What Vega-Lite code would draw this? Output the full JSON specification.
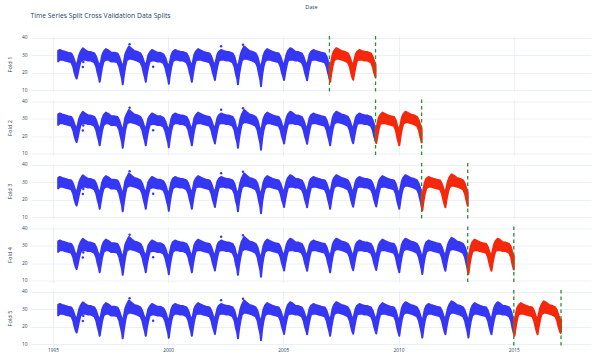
{
"$schema":"https://vega.github.io/schema/vega-lite/v6.json",
"padding":{"left":7,"top":4,"right":9,"bottom":6},
"title":{"text":"Time Series Split Cross Validation Data Splits","anchor":"start","fontSize":6.8,"fontWeight":"normal","color":"#2a3f5f","font":"Open Sans","offset":-15,"dx":23},
"spacing":7.5,
"bounds":"flush",
"datasets":{
"temp":[
{"x":1995.23,"lo":26.5,"hi":32.5},{"x":1995.30,"lo":27.5,"hi":33},{"x":1995.40,"lo":27.5,"hi":32.5},{"x":1995.52,"lo":27,"hi":32},{"x":1995.65,"lo":26.5,"hi":31.5},{"x":1995.80,"lo":26,"hi":31},{"x":1995.88,"lo":23.5,"hi":29},{"x":1995.94,"lo":20,"hi":26.5},{"x":1996.00,"lo":17.5,"hi":24.5},
{"x":1996.03,"lo":16.7,"hi":24},{"x":1996.08,"lo":19.5,"hi":26.5},{"x":1996.14,"lo":23.5,"hi":30},{"x":1996.20,"lo":26.5,"hi":32},{"x":1996.30,"lo":27.5,"hi":34},{"x":1996.40,"lo":27.5,"hi":33},{"x":1996.52,"lo":27,"hi":32},{"x":1996.65,"lo":27,"hi":31.8},{"x":1996.80,"lo":26,"hi":31},{"x":1996.88,"lo":23.5,"hi":29},{"x":1996.94,"lo":20,"hi":26.5},{"x":1997.00,"lo":17,"hi":24.5},
{"x":1997.03,"lo":14.8,"hi":23},{"x":1997.08,"lo":19,"hi":26},{"x":1997.14,"lo":23.5,"hi":30},{"x":1997.20,"lo":26.5,"hi":32},{"x":1997.30,"lo":27.5,"hi":33.5},{"x":1997.40,"lo":27.5,"hi":32.8},{"x":1997.52,"lo":26.5,"hi":31.5},{"x":1997.65,"lo":26.5,"hi":31.5},{"x":1997.80,"lo":26,"hi":31},{"x":1997.88,"lo":23.5,"hi":29},{"x":1997.94,"lo":20,"hi":26.5},{"x":1998.00,"lo":16.5,"hi":24},
{"x":1998.03,"lo":13.4,"hi":22.5},{"x":1998.08,"lo":18.5,"hi":26},{"x":1998.14,"lo":23.5,"hi":30.5},{"x":1998.20,"lo":27,"hi":32.5},{"x":1998.30,"lo":28,"hi":35},{"x":1998.40,"lo":28,"hi":33.8},{"x":1998.52,"lo":27.5,"hi":32.5},{"x":1998.65,"lo":27,"hi":32},{"x":1998.80,"lo":26,"hi":31},{"x":1998.88,"lo":23.5,"hi":29},{"x":1998.94,"lo":20,"hi":26.5},{"x":1999.00,"lo":17,"hi":24.5},
{"x":1999.03,"lo":14.8,"hi":23},{"x":1999.08,"lo":19.5,"hi":26.5},{"x":1999.14,"lo":23.5,"hi":30},{"x":1999.20,"lo":26.5,"hi":31.5},{"x":1999.30,"lo":27,"hi":33},{"x":1999.40,"lo":27,"hi":32.3},{"x":1999.52,"lo":26.5,"hi":31.5},{"x":1999.65,"lo":26.5,"hi":31.5},{"x":1999.80,"lo":25.5,"hi":30.5},{"x":1999.88,"lo":23,"hi":28.5},{"x":1999.94,"lo":19.5,"hi":26},{"x":2000.00,"lo":16.5,"hi":24},
{"x":2000.03,"lo":13.7,"hi":22.5},{"x":2000.08,"lo":19,"hi":26},{"x":2000.14,"lo":23.5,"hi":30},{"x":2000.20,"lo":26.5,"hi":32},{"x":2000.30,"lo":27.5,"hi":33},{"x":2000.40,"lo":27.5,"hi":32.5},{"x":2000.52,"lo":27,"hi":32},{"x":2000.65,"lo":27,"hi":31.8},{"x":2000.80,"lo":26,"hi":31},{"x":2000.88,"lo":23.5,"hi":29},{"x":2000.94,"lo":20,"hi":26.5},{"x":2001.00,"lo":17,"hi":24.5},
{"x":2001.03,"lo":14.8,"hi":23},{"x":2001.08,"lo":19.5,"hi":26.5},{"x":2001.14,"lo":24,"hi":30.5},{"x":2001.20,"lo":27,"hi":32},{"x":2001.30,"lo":27.5,"hi":33.5},{"x":2001.40,"lo":27.5,"hi":32.8},{"x":2001.52,"lo":27,"hi":32},{"x":2001.65,"lo":26.5,"hi":31.5},{"x":2001.80,"lo":26,"hi":31},{"x":2001.88,"lo":23.5,"hi":29},{"x":2001.94,"lo":20,"hi":26.5},{"x":2002.00,"lo":17.5,"hi":24.5},
{"x":2002.03,"lo":15.8,"hi":24},{"x":2002.08,"lo":20,"hi":27},{"x":2002.14,"lo":24,"hi":30.5},{"x":2002.20,"lo":27,"hi":32},{"x":2002.30,"lo":27.5,"hi":33},{"x":2002.40,"lo":27.5,"hi":32.5},{"x":2002.52,"lo":27,"hi":32},{"x":2002.65,"lo":27,"hi":31.8},{"x":2002.80,"lo":26,"hi":31},{"x":2002.88,"lo":23.5,"hi":29},{"x":2002.94,"lo":19.5,"hi":26},{"x":2003.00,"lo":16.5,"hi":24},
{"x":2003.03,"lo":13.4,"hi":22.5},{"x":2003.08,"lo":19,"hi":26},{"x":2003.14,"lo":23.5,"hi":30},{"x":2003.20,"lo":27,"hi":32.5},{"x":2003.30,"lo":28,"hi":35},{"x":2003.40,"lo":28,"hi":33.8},{"x":2003.52,"lo":27.5,"hi":32.5},{"x":2003.65,"lo":27,"hi":32},{"x":2003.80,"lo":26,"hi":31},{"x":2003.88,"lo":23.5,"hi":29},{"x":2003.94,"lo":19.5,"hi":26},{"x":2004.00,"lo":16,"hi":23.5},
{"x":2004.03,"lo":12.3,"hi":22},{"x":2004.08,"lo":18.5,"hi":26},{"x":2004.14,"lo":23.5,"hi":30},{"x":2004.20,"lo":26.5,"hi":32},{"x":2004.30,"lo":27.5,"hi":33.5},{"x":2004.40,"lo":27.5,"hi":32.8},{"x":2004.52,"lo":27,"hi":32},{"x":2004.65,"lo":26.5,"hi":31.5},{"x":2004.80,"lo":26,"hi":31},{"x":2004.88,"lo":23.5,"hi":29},{"x":2004.94,"lo":20,"hi":26.5},{"x":2005.00,"lo":17.5,"hi":24.5},
{"x":2005.03,"lo":15.8,"hi":24},{"x":2005.08,"lo":20,"hi":27},{"x":2005.14,"lo":24,"hi":30.5},{"x":2005.20,"lo":27,"hi":32.5},{"x":2005.30,"lo":27.5,"hi":34},{"x":2005.40,"lo":27.5,"hi":33.3},{"x":2005.52,"lo":27,"hi":32},{"x":2005.65,"lo":27,"hi":31.8},{"x":2005.80,"lo":26,"hi":31},{"x":2005.88,"lo":23.5,"hi":29},{"x":2005.94,"lo":20,"hi":26.5},{"x":2006.00,"lo":17.5,"hi":24.5},
{"x":2006.03,"lo":15.7,"hi":24},{"x":2006.08,"lo":20,"hi":27},{"x":2006.14,"lo":24,"hi":30.5},{"x":2006.20,"lo":27,"hi":32},{"x":2006.30,"lo":27.5,"hi":33},{"x":2006.40,"lo":27.5,"hi":32.5},{"x":2006.52,"lo":27,"hi":32},{"x":2006.65,"lo":26.5,"hi":31.5},{"x":2006.80,"lo":26,"hi":31},{"x":2006.88,"lo":23.5,"hi":29},{"x":2006.94,"lo":20,"hi":26.5},{"x":2007.00,"lo":17,"hi":24.5},
{"x":2007.03,"lo":14.8,"hi":23},{"x":2007.08,"lo":19.5,"hi":26.5},{"x":2007.14,"lo":24,"hi":30.5},{"x":2007.20,"lo":27,"hi":32.5},{"x":2007.30,"lo":28,"hi":34},{"x":2007.40,"lo":28,"hi":33.3},{"x":2007.52,"lo":27.5,"hi":32.5},{"x":2007.65,"lo":27,"hi":32},{"x":2007.80,"lo":26,"hi":31},{"x":2007.88,"lo":23.5,"hi":29},{"x":2007.94,"lo":20,"hi":26.5},{"x":2008.00,"lo":17,"hi":24.5},
{"x":2008.03,"lo":16,"hi":24},{"x":2008.08,"lo":20,"hi":27},{"x":2008.14,"lo":24,"hi":30.5},{"x":2008.20,"lo":27,"hi":32},{"x":2008.30,"lo":27.5,"hi":33},{"x":2008.40,"lo":27.5,"hi":32.5},{"x":2008.52,"lo":27,"hi":32},{"x":2008.65,"lo":27,"hi":31.8},{"x":2008.80,"lo":26,"hi":31},{"x":2008.88,"lo":23.5,"hi":29},{"x":2008.94,"lo":20,"hi":26.5},{"x":2009.00,"lo":17.5,"hi":24.5},
{"x":2009.03,"lo":16.1,"hi":24},{"x":2009.08,"lo":20,"hi":27},{"x":2009.14,"lo":24,"hi":30.5},{"x":2009.20,"lo":27,"hi":32},{"x":2009.30,"lo":27.5,"hi":33.5},{"x":2009.40,"lo":27.5,"hi":32.8},{"x":2009.52,"lo":27,"hi":32},{"x":2009.65,"lo":26.5,"hi":31.5},{"x":2009.80,"lo":26,"hi":31},{"x":2009.88,"lo":23.5,"hi":29},{"x":2009.94,"lo":19.5,"hi":26},{"x":2010.00,"lo":16.5,"hi":24},
{"x":2010.03,"lo":14.8,"hi":23},{"x":2010.08,"lo":19.5,"hi":26.5},{"x":2010.14,"lo":24,"hi":30.5},{"x":2010.20,"lo":27,"hi":32.5},{"x":2010.30,"lo":28,"hi":34},{"x":2010.40,"lo":28,"hi":33.3},{"x":2010.52,"lo":27.5,"hi":32.5},{"x":2010.65,"lo":27,"hi":32},{"x":2010.80,"lo":26,"hi":31},{"x":2010.88,"lo":23.5,"hi":29},{"x":2010.94,"lo":20,"hi":26.5},{"x":2011.00,"lo":16.5,"hi":24},
{"x":2011.03,"lo":13.8,"hi":22.5},{"x":2011.08,"lo":19,"hi":26},{"x":2011.14,"lo":23.5,"hi":30},{"x":2011.20,"lo":26.5,"hi":32},{"x":2011.30,"lo":27.5,"hi":33},{"x":2011.40,"lo":27.5,"hi":32.5},{"x":2011.52,"lo":27,"hi":32},{"x":2011.65,"lo":26.5,"hi":31.5},{"x":2011.80,"lo":26,"hi":31},{"x":2011.88,"lo":23.5,"hi":29},{"x":2011.94,"lo":20,"hi":26.5},{"x":2012.00,"lo":17,"hi":24.5},
{"x":2012.03,"lo":15.7,"hi":24},{"x":2012.08,"lo":20,"hi":27},{"x":2012.14,"lo":24,"hi":30.5},{"x":2012.20,"lo":27,"hi":32.5},{"x":2012.30,"lo":28,"hi":34.5},{"x":2012.40,"lo":28,"hi":33.8},{"x":2012.52,"lo":27.5,"hi":32.5},{"x":2012.65,"lo":27,"hi":32},{"x":2012.80,"lo":26,"hi":31},{"x":2012.88,"lo":23.5,"hi":29},{"x":2012.94,"lo":20,"hi":26.5},{"x":2013.00,"lo":16.5,"hi":24},
{"x":2013.03,"lo":13.8,"hi":22.5},{"x":2013.08,"lo":19,"hi":26},{"x":2013.14,"lo":23.5,"hi":30},{"x":2013.20,"lo":26.5,"hi":32},{"x":2013.30,"lo":27.5,"hi":33.5},{"x":2013.40,"lo":27.5,"hi":32.8},{"x":2013.52,"lo":27,"hi":32},{"x":2013.65,"lo":26.5,"hi":31.5},{"x":2013.80,"lo":26,"hi":31},{"x":2013.88,"lo":23.5,"hi":29},{"x":2013.94,"lo":20,"hi":26.5},{"x":2014.00,"lo":17,"hi":24.5},
{"x":2014.03,"lo":15.7,"hi":24},{"x":2014.08,"lo":20,"hi":27},{"x":2014.14,"lo":24,"hi":30.5},{"x":2014.20,"lo":27,"hi":32.5},{"x":2014.30,"lo":27.5,"hi":34},{"x":2014.40,"lo":27.5,"hi":33.3},{"x":2014.52,"lo":27,"hi":32},{"x":2014.65,"lo":27,"hi":31.8},{"x":2014.80,"lo":26,"hi":31},{"x":2014.88,"lo":23.5,"hi":29},{"x":2014.94,"lo":19.5,"hi":26},{"x":2015.00,"lo":16.5,"hi":24},
{"x":2015.03,"lo":14.8,"hi":23},{"x":2015.08,"lo":19.5,"hi":26.5},{"x":2015.14,"lo":24,"hi":30.5},{"x":2015.20,"lo":27,"hi":32},{"x":2015.30,"lo":27.5,"hi":33.5},{"x":2015.40,"lo":27.5,"hi":32.8},{"x":2015.52,"lo":27,"hi":32},{"x":2015.65,"lo":26.5,"hi":31.5},{"x":2015.80,"lo":26,"hi":31},{"x":2015.88,"lo":23.5,"hi":29},{"x":2015.94,"lo":20,"hi":26.5},{"x":2016.00,"lo":17,"hi":24.5},
{"x":2016.03,"lo":15.7,"hi":24},{"x":2016.08,"lo":20,"hi":27},{"x":2016.14,"lo":24,"hi":30.5},{"x":2016.20,"lo":27,"hi":32.5},{"x":2016.30,"lo":28,"hi":34.5},{"x":2016.40,"lo":28,"hi":33.8},{"x":2016.52,"lo":27.5,"hi":32.5},{"x":2016.65,"lo":27,"hi":32},{"x":2016.80,"lo":26,"hi":31},{"x":2016.88,"lo":23.5,"hi":29},{"x":2016.94,"lo":20,"hi":26.5},{"x":2017.00,"lo":17.5,"hi":24.5},
{"x":2017.03,"lo":16.5,"hi":24},{"x":2017.05,"lo":17.5,"hi":24}
],
"pts":[{"x":1996.30,"v":23.3},{"x":1996.32,"v":26.2},{"x":1998.33,"v":36.3},{"x":1999.35,"v":23.4},{"x":2003.25,"v":36},{"x":2002.3,"v":35.2}],
"cuts":[{"fold":1,"x":2007},{"fold":1,"x":2009},{"fold":2,"x":2009},{"fold":2,"x":2011},{"fold":3,"x":2011},{"fold":3,"x":2013},{"fold":4,"x":2013},{"fold":4,"x":2015},{"fold":5,"x":2015},{"fold":5,"x":2017.05}]
},
"vconcat":[
{"width":560,"height":56,
 "encoding":{"x":{"field":"x","type":"quantitative","title":"Date","scale":{"domain":[1994.05,2018.35],"nice":false},"axis":{"orient":"top","values":[1995,2000,2005,2010,2015],"labels":false,"titlePadding":26.2,"titleFontSize":5.6,"titleColor":"#2a3f5f"}}},
 "layer":[
  {"data":{"name":"temp"},"transform":[{"filter":"datum.x <= 2007"}],"mark":{"type":"area","color":"#3636f5","stroke":"#3636f5","strokeWidth":2,"strokeJoin":"round"},"encoding":{"y":{"field":"lo","type":"quantitative","title":"Fold 1","scale":{"domain":[9,41],"nice":false},"axis":{"values":[10,20,30,40],"labelOverlap":false}},"y2":{"field":"hi"}}},
  {"data":{"name":"temp"},"transform":[{"filter":"datum.x >= 2007 && datum.x <= 2009"}],"mark":{"type":"area","color":"#f5280c","stroke":"#f5280c","strokeWidth":2,"strokeJoin":"round"},"encoding":{"y":{"field":"lo","type":"quantitative","title":"Fold 1","axis":{"values":[10,20,30,40],"labelOverlap":false}},"y2":{"field":"hi"}}},
  {"data":{"name":"pts"},"mark":{"type":"circle","color":"#3636f5","size":6,"opacity":1},"encoding":{"y":{"field":"v","type":"quantitative","title":"Fold 1","axis":{"values":[10,20,30,40],"labelOverlap":false}}}},
  {"data":{"name":"cuts"},"transform":[{"filter":"datum.fold == 1"}],"mark":{"type":"rule","color":"#2e8b3a","strokeDash":[3.5,3],"strokeWidth":1.3},"encoding":{}}
 ]},
{"width":560,"height":56,
 "encoding":{"x":{"field":"x","type":"quantitative","title":null,"scale":{"domain":[1994.05,2018.35],"nice":false},"axis":{"values":[1995,2000,2005,2010,2015],"labels":false}}},
 "layer":[
  {"data":{"name":"temp"},"transform":[{"filter":"datum.x <= 2009"}],"mark":{"type":"area","color":"#3636f5","stroke":"#3636f5","strokeWidth":2,"strokeJoin":"round"},"encoding":{"y":{"field":"lo","type":"quantitative","title":"Fold 2","scale":{"domain":[9,41],"nice":false},"axis":{"values":[10,20,30,40],"labelOverlap":false}},"y2":{"field":"hi"}}},
  {"data":{"name":"temp"},"transform":[{"filter":"datum.x >= 2009 && datum.x <= 2011"}],"mark":{"type":"area","color":"#f5280c","stroke":"#f5280c","strokeWidth":2,"strokeJoin":"round"},"encoding":{"y":{"field":"lo","type":"quantitative","title":"Fold 2","axis":{"values":[10,20,30,40],"labelOverlap":false}},"y2":{"field":"hi"}}},
  {"data":{"name":"pts"},"mark":{"type":"circle","color":"#3636f5","size":6,"opacity":1},"encoding":{"y":{"field":"v","type":"quantitative","title":"Fold 2","axis":{"values":[10,20,30,40],"labelOverlap":false}}}},
  {"data":{"name":"cuts"},"transform":[{"filter":"datum.fold == 2"}],"mark":{"type":"rule","color":"#2e8b3a","strokeDash":[3.5,3],"strokeWidth":1.3},"encoding":{}}
 ]},
{"width":560,"height":56,
 "encoding":{"x":{"field":"x","type":"quantitative","title":null,"scale":{"domain":[1994.05,2018.35],"nice":false},"axis":{"values":[1995,2000,2005,2010,2015],"labels":false}}},
 "layer":[
  {"data":{"name":"temp"},"transform":[{"filter":"datum.x <= 2011"}],"mark":{"type":"area","color":"#3636f5","stroke":"#3636f5","strokeWidth":2,"strokeJoin":"round"},"encoding":{"y":{"field":"lo","type":"quantitative","title":"Fold 3","scale":{"domain":[9,41],"nice":false},"axis":{"values":[10,20,30,40],"labelOverlap":false}},"y2":{"field":"hi"}}},
  {"data":{"name":"temp"},"transform":[{"filter":"datum.x >= 2011 && datum.x <= 2013"}],"mark":{"type":"area","color":"#f5280c","stroke":"#f5280c","strokeWidth":2,"strokeJoin":"round"},"encoding":{"y":{"field":"lo","type":"quantitative","title":"Fold 3","axis":{"values":[10,20,30,40],"labelOverlap":false}},"y2":{"field":"hi"}}},
  {"data":{"name":"pts"},"mark":{"type":"circle","color":"#3636f5","size":6,"opacity":1},"encoding":{"y":{"field":"v","type":"quantitative","title":"Fold 3","axis":{"values":[10,20,30,40],"labelOverlap":false}}}},
  {"data":{"name":"cuts"},"transform":[{"filter":"datum.fold == 3"}],"mark":{"type":"rule","color":"#2e8b3a","strokeDash":[3.5,3],"strokeWidth":1.3},"encoding":{}}
 ]},
{"width":560,"height":56,
 "encoding":{"x":{"field":"x","type":"quantitative","title":null,"scale":{"domain":[1994.05,2018.35],"nice":false},"axis":{"values":[1995,2000,2005,2010,2015],"labels":false}}},
 "layer":[
  {"data":{"name":"temp"},"transform":[{"filter":"datum.x <= 2013"}],"mark":{"type":"area","color":"#3636f5","stroke":"#3636f5","strokeWidth":2,"strokeJoin":"round"},"encoding":{"y":{"field":"lo","type":"quantitative","title":"Fold 4","scale":{"domain":[9,41],"nice":false},"axis":{"values":[10,20,30,40],"labelOverlap":false}},"y2":{"field":"hi"}}},
  {"data":{"name":"temp"},"transform":[{"filter":"datum.x >= 2013 && datum.x <= 2015"}],"mark":{"type":"area","color":"#f5280c","stroke":"#f5280c","strokeWidth":2,"strokeJoin":"round"},"encoding":{"y":{"field":"lo","type":"quantitative","title":"Fold 4","axis":{"values":[10,20,30,40],"labelOverlap":false}},"y2":{"field":"hi"}}},
  {"data":{"name":"pts"},"mark":{"type":"circle","color":"#3636f5","size":6,"opacity":1},"encoding":{"y":{"field":"v","type":"quantitative","title":"Fold 4","axis":{"values":[10,20,30,40],"labelOverlap":false}}}},
  {"data":{"name":"cuts"},"transform":[{"filter":"datum.fold == 4"}],"mark":{"type":"rule","color":"#2e8b3a","strokeDash":[3.5,3],"strokeWidth":1.3},"encoding":{}}
 ]},
{"width":560,"height":56,
 "encoding":{"x":{"field":"x","type":"quantitative","title":null,"scale":{"domain":[1994.05,2018.35],"nice":false},"axis":{"values":[1995,2000,2005,2010,2015],"format":"d","labelPadding":1}}},
 "layer":[
  {"data":{"name":"temp"},"transform":[{"filter":"datum.x <= 2015"}],"mark":{"type":"area","color":"#3636f5","stroke":"#3636f5","strokeWidth":2,"strokeJoin":"round"},"encoding":{"y":{"field":"lo","type":"quantitative","title":"Fold 5","scale":{"domain":[9,41],"nice":false},"axis":{"values":[10,20,30,40],"labelOverlap":false}},"y2":{"field":"hi"}}},
  {"data":{"name":"temp"},"transform":[{"filter":"datum.x >= 2015"}],"mark":{"type":"area","color":"#f5280c","stroke":"#f5280c","strokeWidth":2,"strokeJoin":"round"},"encoding":{"y":{"field":"lo","type":"quantitative","title":"Fold 5","axis":{"values":[10,20,30,40],"labelOverlap":false}},"y2":{"field":"hi"}}},
  {"data":{"name":"pts"},"mark":{"type":"circle","color":"#3636f5","size":6,"opacity":1},"encoding":{"y":{"field":"v","type":"quantitative","title":"Fold 5","axis":{"values":[10,20,30,40],"labelOverlap":false}}}},
  {"data":{"name":"cuts"},"transform":[{"filter":"datum.fold == 5"}],"mark":{"type":"rule","color":"#2e8b3a","strokeDash":[3.5,3],"strokeWidth":1.3},"encoding":{}}
 ]}
],
"config":{
 "view":{"stroke":null},
 "font":"Open Sans",
 "axis":{"domain":false,"ticks":false,"gridColor":"#EBF0F8","gridWidth":1,"labelFont":"Open Sans","labelFontSize":4.8,"labelColor":"#2a3f5f","titleFont":"Open Sans","titleFontSize":5.6,"titleColor":"#2a3f5f","titleFontWeight":"normal","labelPadding":4,"minExtent":0,"labelOverlap":false},
 "axisY":{"titlePadding":9}
}
}
